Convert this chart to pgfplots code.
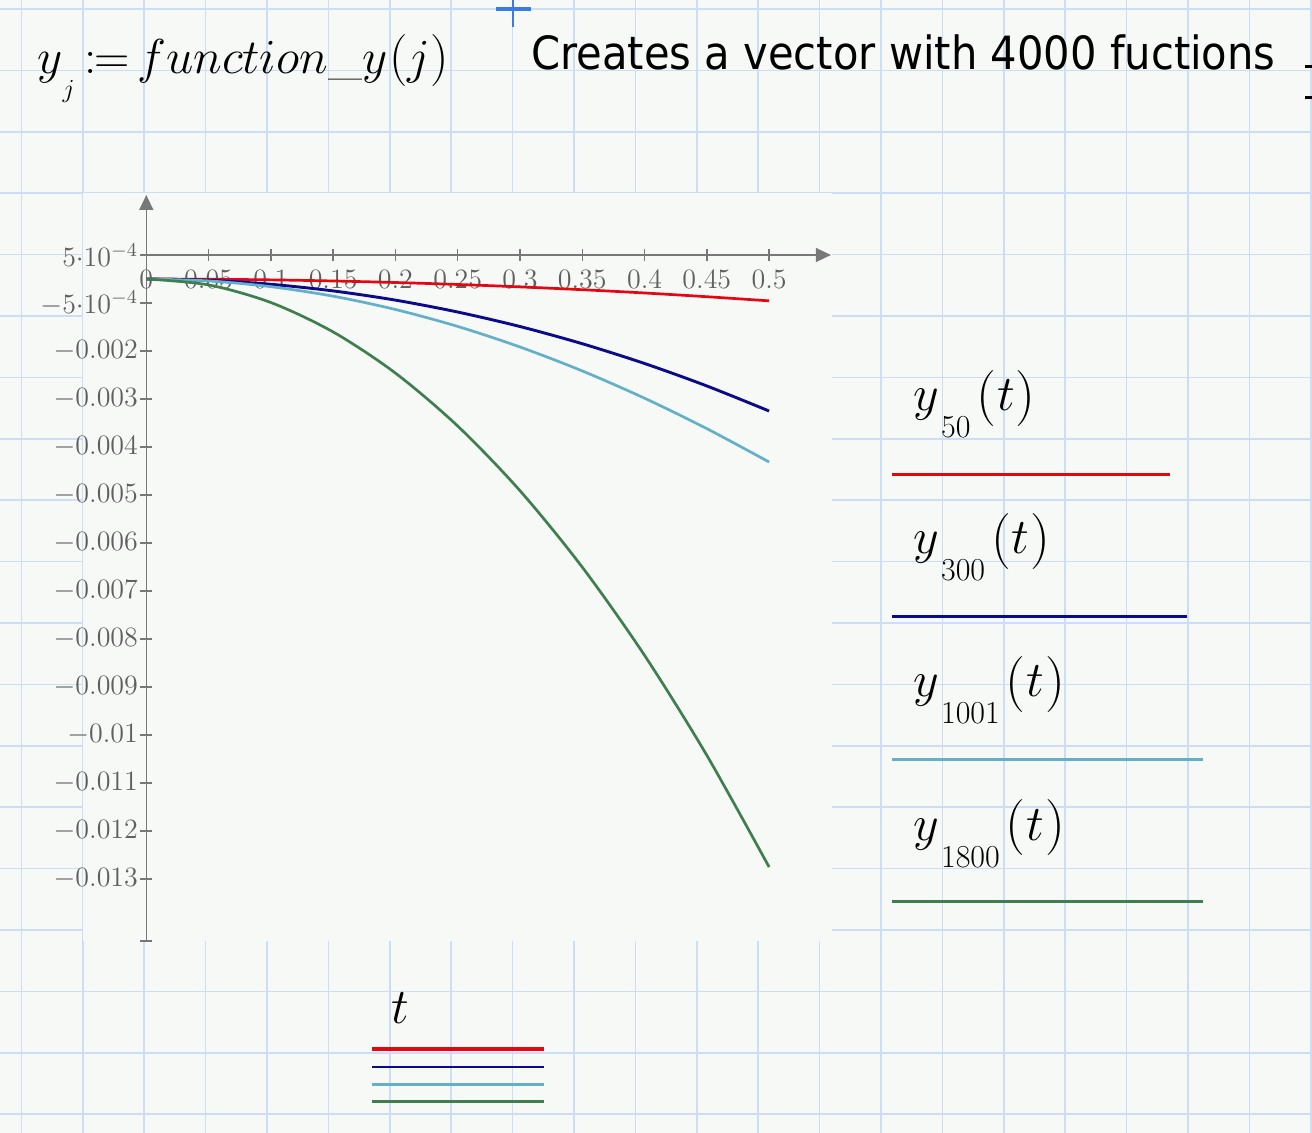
\RequirePackage{fix-cm}
\documentclass[border=0pt]{standalone}
\usepackage{fontspec}
\usepackage{pgfplots}
\pgfplotsset{compat=1.18}
\usetikzlibrary{arrows.meta}
\newfontfamily\tahoma[FakeStretch=0.91]{DejaVu Sans}
\definecolor{bg}{RGB}{247,249,247}
\definecolor{gridc}{RGB}{204,222,245}
\definecolor{axc}{RGB}{120,120,120}
\definecolor{labc}{RGB}{95,95,95}
\definecolor{cred}{RGB}{227,6,19}
\definecolor{cblue}{RGB}{10,10,138}
\definecolor{ccyan}{RGB}{100,176,200}
\definecolor{cgreen}{RGB}{63,127,79}
\definecolor{cursor}{RGB}{58,123,232}
\newcommand\bp[1]{\raisebox{-0.8pt}{\fontsize{28}{28}\selectfont$#1$}}
\newcommand\leg[1]{\fontsize{25}{25}\selectfont$y$\hspace{1pt}\raisebox{-13.5pt}{\fontsize{16}{16}\selectfont #1}\hspace{3pt}\bp{(}\hspace{0.5pt}$t$\hspace{0.5pt}\bp{)}}
\begin{document}
\begin{tikzpicture}
\begin{scope}[x=0.5pt,y=-0.5pt]
\useasboundingbox (0,0) rectangle (1312,1133);
\fill[bg] (0,0) rectangle (1312,1133);
\foreach \i in {0,...,21} \draw[gridc, line width=0.75pt] ({21.4+61.4*\i},0) -- ({21.4+61.4*\i},1133);
\foreach \i in {0,...,18} \draw[gridc, line width=0.75pt] (0,{9+61.4*\i}) -- (1312,{9+61.4*\i});
\fill[bg] (83,193) rectangle (832,941);
\draw[cursor, line width=1pt] (513,0) -- (513,27);
\draw[cursor, line width=2pt] (496,9) -- (531,9);
\draw[black, line width=1.2pt] (1305,66.5) -- (1312,66.5);
\draw[black, line width=1.2pt] (1305,97.5) -- (1312,97.5);
\end{scope}
\begin{axis}[
  at={(73.15pt,-470.5pt)}, anchor=south west,
  scale only axis, width=342.3pt, height=373pt,
  xmin=0, xmax=0.5496, ymin=-0.01429, ymax=0.00125,
  axis lines=middle,
  axis line style={axc, line width=0.75pt},
  every inner x axis line/.append style={-{Triangle[length=7.5pt,width=7pt]}},
  every inner y axis line/.append style={-{Triangle[length=7.5pt,width=7pt]}},
  hide obscured x ticks=false, hide obscured y ticks=false,
  scaled y ticks=false, scaled x ticks=false,
  xtick={0,0.05,0.1,0.15,0.2,0.25,0.3,0.35,0.4,0.45,0.5},
  xticklabels={$0$,$0.05$,$0.1$,$0.15$,$0.2$,$0.25$,$0.3$,$0.35$,$0.4$,$0.45$,$0.5$},
  ytick={0,-0.001,-0.002,-0.003,-0.004,-0.005,-0.006,-0.007,-0.008,-0.009,-0.01,-0.011,-0.012,-0.013},
  yticklabels={$5{\cdot}10^{-4}$,$-5{\cdot}10^{-4}$,$-0.002$,$-0.003$,$-0.004$,$-0.005$,$-0.006$,$-0.007$,$-0.008$,$-0.009$,$-0.01$,$-0.011$,$-0.012$,$-0.013$},
  extra y ticks={-0.01429}, extra y tick labels={},
  tick style={axc, line width=0.75pt}, major tick length=6pt, tick align=center,
  tick label style={font=\fontsize{14}{14}\selectfont, text=labc},
  xticklabel style={anchor=north, inner sep=0pt, yshift=-4.5pt},
  yticklabel style={anchor=east, inner sep=0pt, xshift=-1pt},
  clip=false,
]
\addplot[cred, line width=1.35pt, smooth, line join=round] coordinates {
(0,-0.0005) (0.05,-0.000505) (0.1,-0.000518) (0.15,-0.000541) (0.2,-0.000573) (0.25,-0.000614) (0.3,-0.000664) (0.35,-0.000723) (0.4,-0.000791) (0.45,-0.000869) (0.5,-0.000955)};
\addplot[cblue, line width=1.45pt, smooth, line join=round] coordinates {
(0,-0.0005) (0.05,-0.000528) (0.1,-0.00061) (0.15,-0.000748) (0.2,-0.00094) (0.25,-0.001188) (0.3,-0.00149) (0.35,-0.001848) (0.4,-0.00226) (0.45,-0.002728) (0.5,-0.00325)};
\addplot[ccyan, line width=1.35pt, smooth, line join=round] coordinates {
(0,-0.0005) (0.05,-0.00054) (0.1,-0.00066) (0.15,-0.000858) (0.2,-0.001135) (0.25,-0.001488) (0.3,-0.001916) (0.35,-0.002415) (0.4,-0.002983) (0.45,-0.003617) (0.5,-0.004313)};
\addplot[cgreen, line width=1.35pt, smooth, line join=round] coordinates {
(0,-0.0005) (0.05,-0.000623) (0.1,-0.00099) (0.15,-0.001603) (0.2,-0.00246) (0.25,-0.003563) (0.3,-0.00491) (0.35,-0.006503) (0.4,-0.00834) (0.45,-0.010423) (0.5,-0.01275)};
\end{axis}
\begin{scope}[x=0.5pt,y=-0.5pt]
\node[anchor=base west, inner sep=0pt] at (37,74) {\fontsize{24.5}{25}\selectfont$y$\raisebox{-11.6pt}{\fontsize{13}{13}\selectfont$j$}\hspace{5pt}${:}\mkern-1mu{=}$\hspace{4pt}$function\_y$\hspace{1pt}{\fontsize{26}{26}\selectfont$($}$j${\fontsize{26}{26}\selectfont$)$}};
\node[anchor=base west, inner sep=0pt] at (531,70) {\fontsize{22.9}{24}\tahoma Creates a vector with 4000 fuctions};
\node[anchor=base west, inner sep=0pt] at (913,411) {\leg{50}};
\node[anchor=base west, inner sep=0pt] at (913,554) {\leg{300}};
\node[anchor=base west, inner sep=0pt] at (913,697) {\leg{1001}};
\node[anchor=base west, inner sep=0pt] at (913,840) {\leg{1800}};
\draw[cred, line width=1.25pt] (892,474.3) -- (1170,474.3);
\draw[cblue, line width=1.7pt] (892,616.6) -- (1186.7,616.6);
\draw[ccyan, line width=1.25pt] (892,759.3) -- (1202.7,759.3);
\draw[cgreen, line width=1.25pt] (892,901.5) -- (1202.7,901.5);
\node[anchor=base west, inner sep=0pt] at (391,1023) {\fontsize{25}{25}\selectfont$t$};
\draw[cred, line width=1.9pt] (372,1049.3) -- (544,1049.3);
\draw[cblue, line width=1.2pt] (372,1066.7) -- (544,1066.7);
\draw[ccyan, line width=1.5pt] (372,1084.3) -- (544,1084.3);
\draw[cgreen, line width=1.3pt] (372,1101.7) -- (544,1101.7);
\end{scope}
\end{tikzpicture}
\end{document}
